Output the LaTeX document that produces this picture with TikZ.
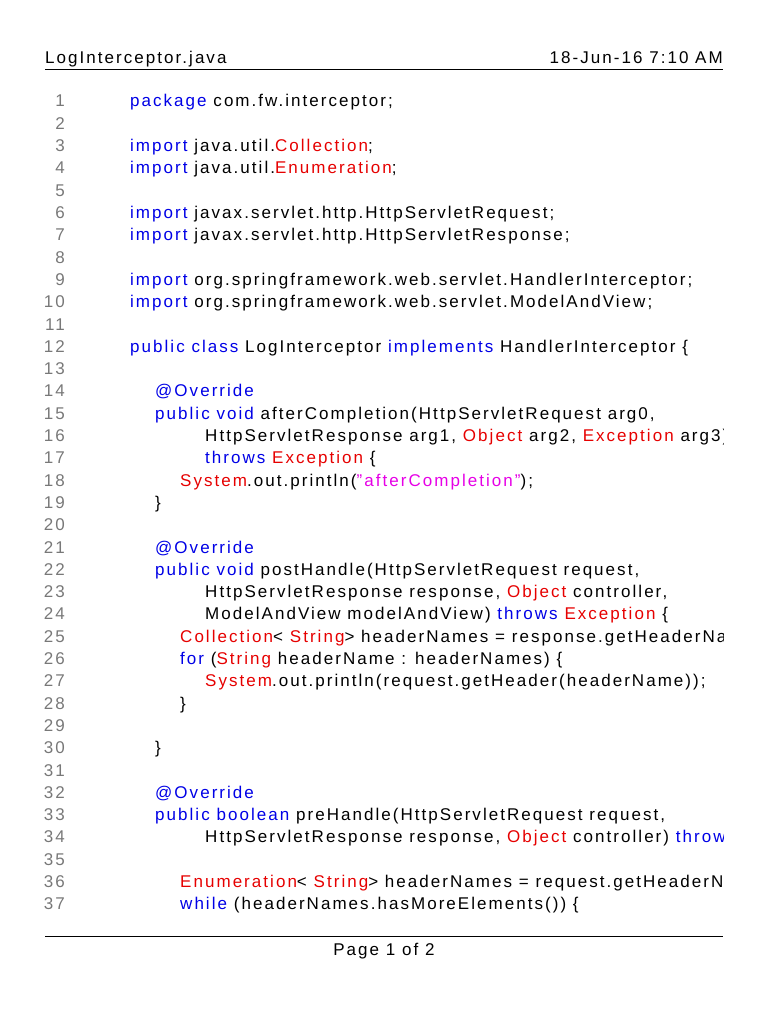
\documentclass[tikz,border=0pt]{standalone}
\usepackage{fontspec}
\setmainfont[LetterSpace=12]{Liberation Sans}
\usetikzlibrary{positioning}
\definecolor{kwblue}{RGB}{0,0,230}
\definecolor{tyred}{RGB}{230,0,0}
\definecolor{strmag}{RGB}{230,0,230}
\definecolor{numgray}{RGB}{120,120,120}
\newcommand{\kw}[1]{\textcolor{kwblue}{#1}}
\newcommand{\ty}[1]{\textcolor{tyred}{#1}}
\newcommand{\str}[1]{\textcolor{strmag}{#1}}
\newcommand{\codeline}[3]{\node[txt] (l#1) at ({130+25*#2},{107+22.3*(#1-1)}) {#3};}
\tikzset{
  txt/.style={inner sep=0pt, anchor=base west, font=\fontsize{17}{20}\selectfont},
  num/.style={inner sep=0pt, anchor=base east, text=numgray, font=\fontsize{17}{20}\selectfont},
  rule/.style={line width=0.8pt}
}
\begin{document}
\begin{tikzpicture}[x=1pt,y=-1pt]
\useasboundingbox (0,0) rectangle (768,1024);
% header
\node[txt] (file) at (45,64) {LogInterceptor.java};
\node[txt, anchor=base east] (date) at (723,64) {18-Jun-16 7:10 AM};
\coordinate (hl) at (45,69); \coordinate (hr) at (723,69);
\draw[rule] (hl) -- (hr);
% line numbers
\foreach \n in {1,...,37}
  \node[num] (n\n) at (65,{107+22.3*(\n-1)}) {\n};
% code
\begin{scope}
\clip (100,75) rectangle (723,930);
\codeline{1}{0}{\kw{package} com.fw.interceptor;}
\codeline{3}{0}{\kw{import} java.util.\ty{Collection};}
\codeline{4}{0}{\kw{import} java.util.\ty{Enumeration};}
\codeline{6}{0}{\kw{import} javax.servlet.http.HttpServletRequest;}
\codeline{7}{0}{\kw{import} javax.servlet.http.HttpServletResponse;}
\codeline{9}{0}{\kw{import} org.springframework.web.servlet.HandlerInterceptor;}
\codeline{10}{0}{\kw{import} org.springframework.web.servlet.ModelAndView;}
\codeline{12}{0}{\kw{public class} LogInterceptor \kw{implements} HandlerInterceptor \{}
\codeline{14}{1}{\kw{@Override}}
\codeline{15}{1}{\kw{public void} afterCompletion(HttpServletRequest arg0,}
\codeline{16}{3}{HttpServletResponse arg1, \ty{Object} arg2, \ty{Exception} arg3)}
\codeline{17}{3}{\kw{throws} \ty{Exception} \{}
\codeline{18}{2}{\ty{System}.out.println(\str{"afterCompletion"});}
\codeline{19}{1}{\}}
\codeline{21}{1}{\kw{@Override}}
\codeline{22}{1}{\kw{public void} postHandle(HttpServletRequest request,}
\codeline{23}{3}{HttpServletResponse response, \ty{Object} controller,}
\codeline{24}{3}{ModelAndView modelAndView) \kw{throws} \ty{Exception} \{}
\codeline{25}{2}{\ty{Collection}< \ty{String}> headerNames = response.getHeaderNames();}
\codeline{26}{2}{\kw{for} (\ty{String} headerName : headerNames) \{}
\codeline{27}{3}{\ty{System}.out.println(request.getHeader(headerName));}
\codeline{28}{2}{\}}
\codeline{30}{1}{\}}
\codeline{32}{1}{\kw{@Override}}
\codeline{33}{1}{\kw{public boolean} preHandle(HttpServletRequest request,}
\codeline{34}{3}{HttpServletResponse response, \ty{Object} controller) \kw{throws} \ty{Exception} \{}
\codeline{36}{2}{\ty{Enumeration}< \ty{String}> headerNames = request.getHeaderNames();}
\codeline{37}{2}{\kw{while} (headerNames.hasMoreElements()) \{}
\end{scope}
% footer
\coordinate (fl) at (45,936); \coordinate (fr) at (723,936);
\draw[rule] (fl) -- (fr);
\node[txt, anchor=base] (page) at (384,955) {Page 1 of 2};
\end{tikzpicture}
\end{document}
